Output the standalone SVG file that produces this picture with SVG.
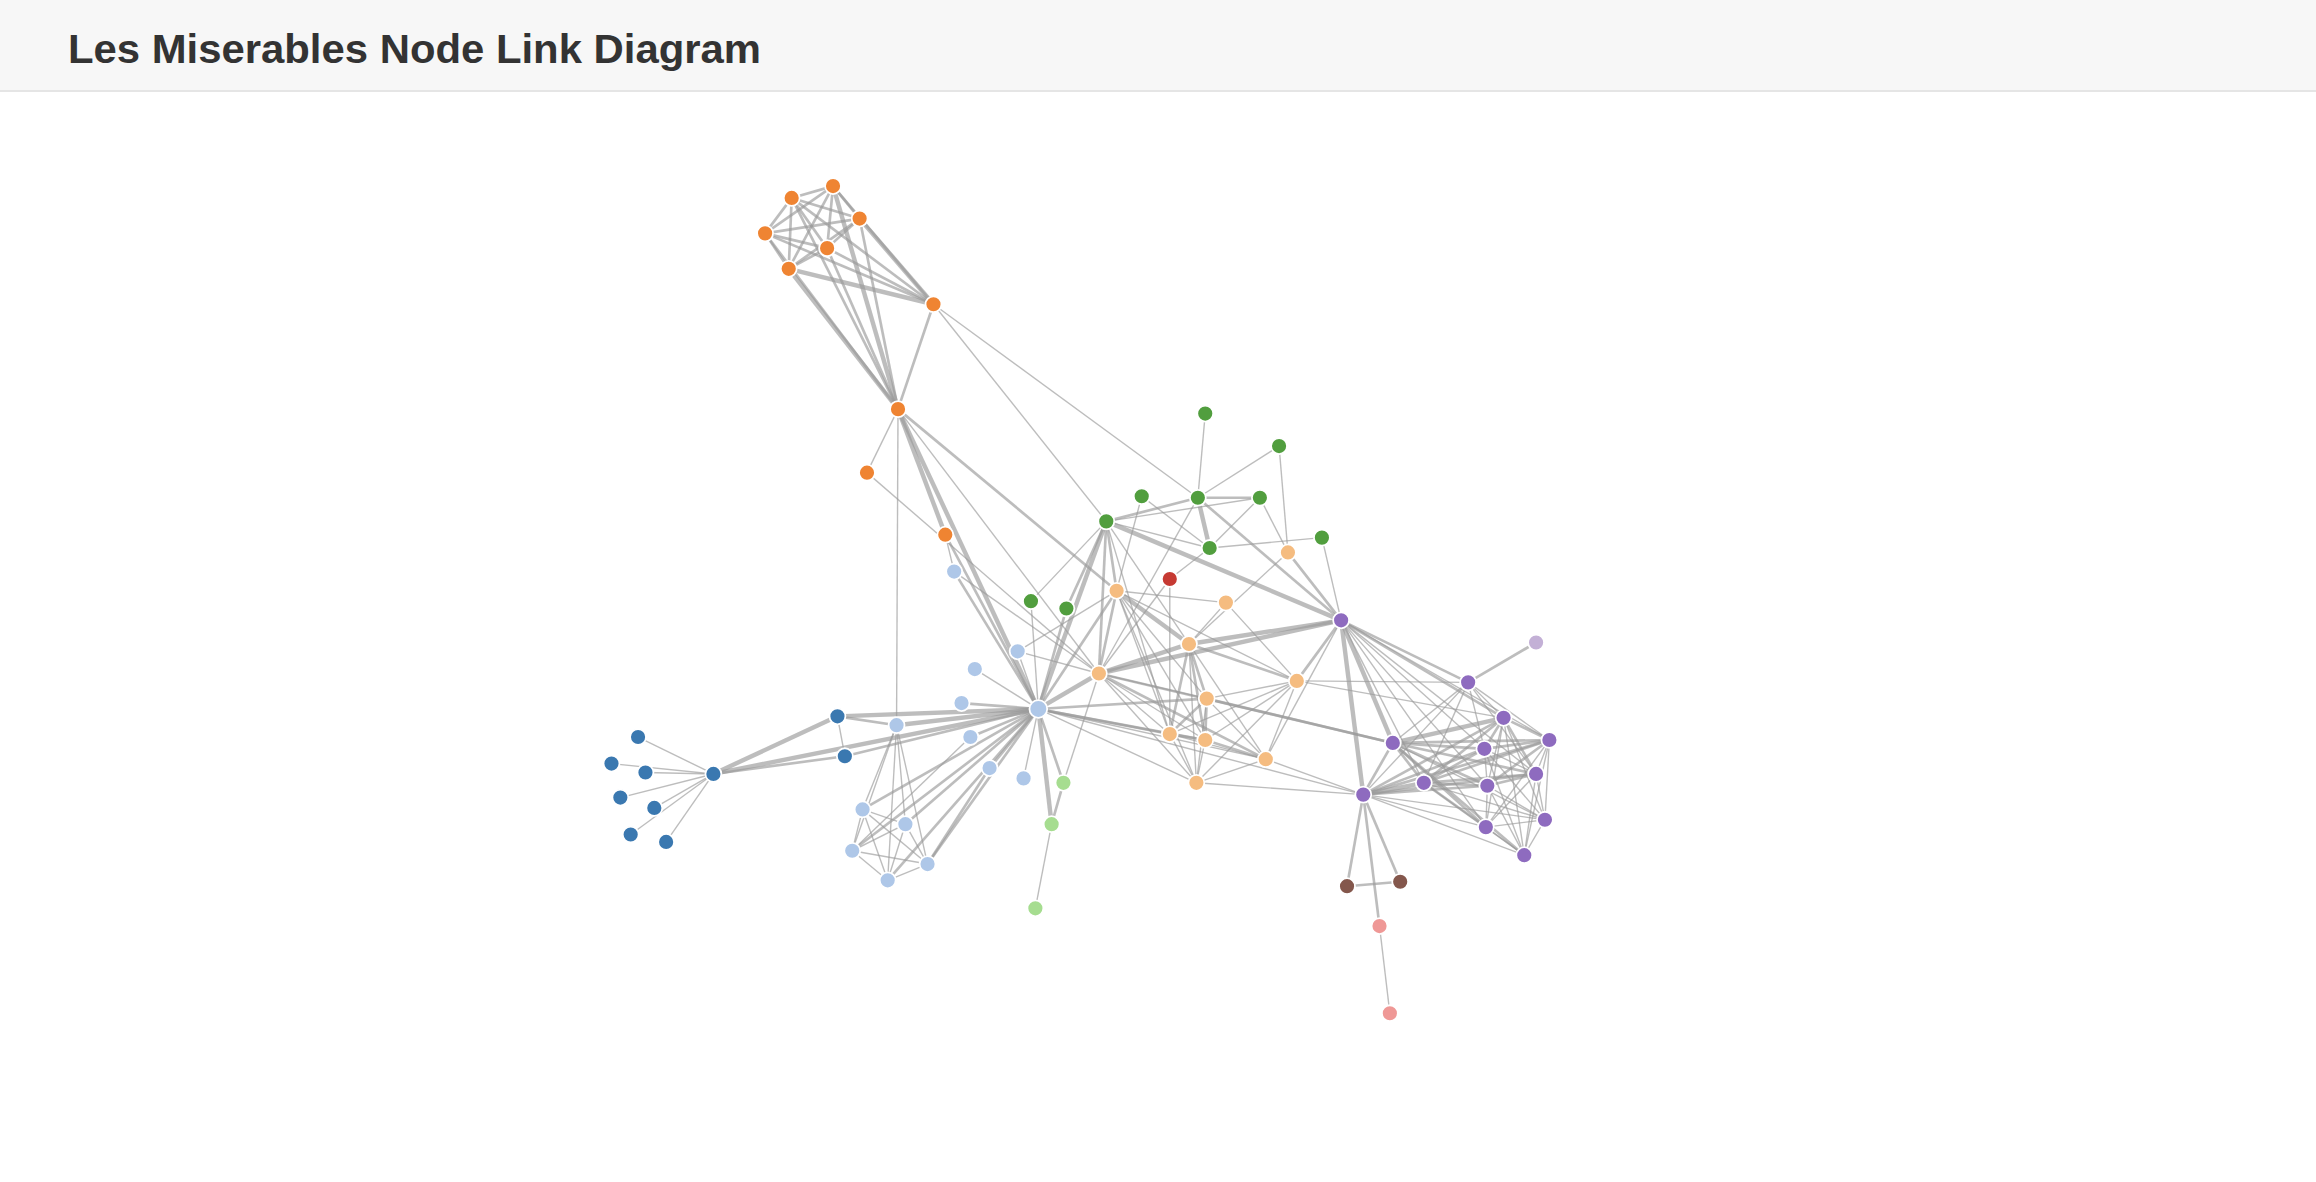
<svg xmlns="http://www.w3.org/2000/svg" width="2316" height="1182" viewBox="0 0 2316 1182">
<style>
.t{stroke:#9a9a9a;stroke-opacity:.65;stroke-width:.95}
.m{stroke:#9a9a9a;stroke-opacity:.65;stroke-width:1.8}
.k{stroke:#9a9a9a;stroke-opacity:.65;stroke-width:3}
circle{stroke:#fff;stroke-width:1.2}
.c1{fill:#3a78b0}.c2{fill:#aec7e8}.c3{fill:#ef8432}.c4{fill:#f5bc80}.c5{fill:#519e3e}.c6{fill:#a6dd90}.c7{fill:#c63a33}.c8{fill:#ef9896}.c9{fill:#8e6bbf}.c10{fill:#c3b0d6}.c11{fill:#84574c}
</style>
<rect x="0" y="0" width="2316" height="1182" fill="#fff"/>
<rect x="0" y="0" width="2316" height="90" fill="#f7f7f7"/>
<rect x="0" y="90" width="2316" height="2" fill="#e5e5e5"/>
<text x="68" y="63" font-family="Liberation Sans, Arial, sans-serif" font-size="41" font-weight="bold" fill="#333" textLength="693" lengthAdjust="spacingAndGlyphs">Les Miserables Node Link Diagram</text>
<g transform="scale(1.4770)">
<g id="links">
<line class="m" x1="564" y1="126" x2="536" y2="134"/><line class="m" x1="564" y1="126" x2="582" y2="148"/><line class="m" x1="564" y1="126" x2="518" y2="158"/><line class="m" x1="564" y1="126" x2="560" y2="168"/><line class="m" x1="564" y1="126" x2="534" y2="182"/><line class="m" x1="564" y1="126" x2="632" y2="206"/>
<line class="m" x1="536" y1="134" x2="582" y2="148"/><line class="m" x1="536" y1="134" x2="518" y2="158"/><line class="m" x1="536" y1="134" x2="560" y2="168"/><line class="m" x1="536" y1="134" x2="534" y2="182"/><line class="m" x1="536" y1="134" x2="632" y2="206"/>
<line class="m" x1="582" y1="148" x2="518" y2="158"/><line class="m" x1="582" y1="148" x2="560" y2="168"/><line class="m" x1="582" y1="148" x2="534" y2="182"/><line class="k" x1="582" y1="148" x2="632" y2="206"/>
<line class="m" x1="518" y1="158" x2="560" y2="168"/><line class="m" x1="518" y1="158" x2="534" y2="182"/><line class="m" x1="518" y1="158" x2="632" y2="206"/>
<line class="m" x1="560" y1="168" x2="534" y2="182"/><line class="m" x1="560" y1="168" x2="632" y2="206"/><line class="k" x1="534" y1="182" x2="632" y2="206"/>
<line class="k" x1="608" y1="277" x2="564" y2="126"/><line class="m" x1="608" y1="277" x2="536" y2="134"/><line class="m" x1="608" y1="277" x2="582" y2="148"/><line class="m" x1="608" y1="277" x2="518" y2="158"/><line class="m" x1="608" y1="277" x2="560" y2="168"/><line class="k" x1="608" y1="277" x2="534" y2="182"/><line class="m" x1="608" y1="277" x2="632" y2="206"/>
<line class="t" x1="608" y1="277" x2="587" y2="320"/><line class="k" x1="608" y1="277" x2="640" y2="362"/><line class="k" x1="608" y1="277" x2="703" y2="480"/><line class="m" x1="608" y1="277" x2="756" y2="400"/><line class="t" x1="608" y1="277" x2="744" y2="456"/><line class="t" x1="608" y1="277" x2="607" y2="491"/>
<line class="t" x1="632" y1="206" x2="749" y2="353"/><line class="t" x1="632" y1="206" x2="811" y2="337"/>
<line class="t" x1="587" y1="320" x2="744" y2="456"/><line class="t" x1="640" y1="362" x2="646" y2="387"/><line class="m" x1="640" y1="362" x2="703" y2="480"/>
<line class="m" x1="646" y1="387" x2="703" y2="480"/><line class="t" x1="646" y1="387" x2="744" y2="456"/>
<line class="t" x1="816" y1="280" x2="811" y2="337"/><line class="t" x1="866" y1="302" x2="811" y2="337"/><line class="t" x1="866" y1="302" x2="872" y2="374"/><line class="t" x1="773" y1="336" x2="819" y2="371"/><line class="t" x1="773" y1="336" x2="756" y2="400"/>
<line class="m" x1="811" y1="337" x2="853" y2="337"/><line class="m" x1="811" y1="337" x2="749" y2="353"/><line class="k" x1="811" y1="337" x2="819" y2="371"/><line class="m" x1="811" y1="337" x2="908" y2="420"/><line class="t" x1="811" y1="337" x2="744" y2="456"/>
<line class="t" x1="853" y1="337" x2="749" y2="353"/><line class="t" x1="853" y1="337" x2="819" y2="371"/><line class="t" x1="853" y1="337" x2="872" y2="374"/>
<line class="t" x1="819" y1="371" x2="749" y2="353"/><line class="t" x1="819" y1="371" x2="895" y2="364"/><line class="t" x1="819" y1="371" x2="792" y2="392"/><line class="t" x1="895" y1="364" x2="908" y2="420"/>
<line class="k" x1="749" y1="353" x2="908" y2="420"/><line class="k" x1="749" y1="353" x2="703" y2="480"/><line class="m" x1="749" y1="353" x2="756" y2="400"/><line class="t" x1="749" y1="353" x2="698" y2="407"/><line class="m" x1="749" y1="353" x2="722" y2="412"/><line class="m" x1="749" y1="353" x2="744" y2="456"/><line class="t" x1="749" y1="353" x2="805" y2="436"/><line class="t" x1="749" y1="353" x2="792" y2="497"/>
<line class="t" x1="698" y1="407" x2="703" y2="480"/><line class="m" x1="722" y1="412" x2="703" y2="480"/>
<line class="t" x1="792" y1="392" x2="744" y2="456"/><line class="t" x1="792" y1="392" x2="792" y2="497"/>
<line class="m" x1="872" y1="374" x2="908" y2="420"/><line class="t" x1="872" y1="374" x2="805" y2="436"/>
<line class="t" x1="756" y1="400" x2="830" y2="408"/><line class="k" x1="756" y1="400" x2="805" y2="436"/><line class="m" x1="756" y1="400" x2="744" y2="456"/><line class="t" x1="756" y1="400" x2="878" y2="461"/><line class="t" x1="756" y1="400" x2="817" y2="473"/><line class="t" x1="756" y1="400" x2="792" y2="497"/><line class="t" x1="756" y1="400" x2="816" y2="501"/><line class="t" x1="756" y1="400" x2="810" y2="530"/><line class="m" x1="756" y1="400" x2="703" y2="480"/>
<line class="t" x1="830" y1="408" x2="805" y2="436"/><line class="t" x1="830" y1="408" x2="878" y2="461"/>
<line class="k" x1="805" y1="436" x2="744" y2="456"/><line class="k" x1="805" y1="436" x2="908" y2="420"/><line class="m" x1="805" y1="436" x2="878" y2="461"/><line class="m" x1="805" y1="436" x2="817" y2="473"/><line class="m" x1="805" y1="436" x2="792" y2="497"/><line class="m" x1="805" y1="436" x2="816" y2="501"/><line class="t" x1="805" y1="436" x2="857" y2="514"/><line class="t" x1="805" y1="436" x2="810" y2="530"/>
<line class="k" x1="744" y1="456" x2="908" y2="420"/><line class="k" x1="744" y1="456" x2="703" y2="480"/><line class="t" x1="744" y1="456" x2="817" y2="473"/><line class="t" x1="744" y1="456" x2="792" y2="497"/><line class="t" x1="744" y1="456" x2="816" y2="501"/><line class="m" x1="744" y1="456" x2="857" y2="514"/><line class="t" x1="744" y1="456" x2="810" y2="530"/><line class="m" x1="744" y1="456" x2="943" y2="503"/><line class="t" x1="744" y1="456" x2="720" y2="530"/>
<line class="m" x1="878" y1="461" x2="908" y2="420"/><line class="t" x1="878" y1="461" x2="817" y2="473"/><line class="t" x1="878" y1="461" x2="792" y2="497"/><line class="t" x1="878" y1="461" x2="816" y2="501"/><line class="t" x1="878" y1="461" x2="857" y2="514"/><line class="t" x1="878" y1="461" x2="810" y2="530"/><line class="t" x1="878" y1="461" x2="994" y2="462"/><line class="t" x1="878" y1="461" x2="1018" y2="486"/>
<line class="m" x1="817" y1="473" x2="792" y2="497"/><line class="m" x1="817" y1="473" x2="816" y2="501"/><line class="t" x1="817" y1="473" x2="857" y2="514"/><line class="t" x1="817" y1="473" x2="810" y2="530"/><line class="m" x1="817" y1="473" x2="943" y2="503"/>
<line class="m" x1="792" y1="497" x2="816" y2="501"/><line class="t" x1="792" y1="497" x2="857" y2="514"/><line class="t" x1="792" y1="497" x2="810" y2="530"/><line class="m" x1="816" y1="501" x2="857" y2="514"/><line class="t" x1="816" y1="501" x2="810" y2="530"/>
<line class="t" x1="857" y1="514" x2="810" y2="530"/><line class="t" x1="857" y1="514" x2="923" y2="538"/><line class="t" x1="810" y1="530" x2="923" y2="538"/><line class="t" x1="857" y1="514" x2="908" y2="420"/>
<line class="m" x1="703" y1="480" x2="817" y2="473"/><line class="m" x1="703" y1="480" x2="792" y2="497"/><line class="m" x1="703" y1="480" x2="816" y2="501"/><line class="t" x1="703" y1="480" x2="810" y2="530"/><line class="t" x1="703" y1="480" x2="923" y2="538"/><line class="t" x1="703" y1="480" x2="857" y2="514"/>
<line class="k" x1="908" y1="420" x2="923" y2="538"/><line class="k" x1="908" y1="420" x2="943" y2="503"/><line class="m" x1="908" y1="420" x2="994" y2="462"/><line class="m" x1="908" y1="420" x2="1018" y2="486"/><line class="t" x1="908" y1="420" x2="1049" y2="501"/><line class="t" x1="908" y1="420" x2="1005" y2="507"/><line class="t" x1="908" y1="420" x2="964" y2="530"/><line class="t" x1="908" y1="420" x2="1040" y2="524"/><line class="t" x1="908" y1="420" x2="1007" y2="532"/><line class="t" x1="908" y1="420" x2="1006" y2="560"/>
<line class="m" x1="994" y1="462" x2="1040" y2="435"/>
<line class="t" x1="994" y1="462" x2="1018" y2="486"/><line class="t" x1="994" y1="462" x2="1049" y2="501"/><line class="t" x1="994" y1="462" x2="943" y2="503"/><line class="t" x1="994" y1="462" x2="1005" y2="507"/><line class="t" x1="994" y1="462" x2="964" y2="530"/><line class="t" x1="994" y1="462" x2="1040" y2="524"/><line class="t" x1="994" y1="462" x2="923" y2="538"/>
<line class="k" x1="943" y1="503" x2="1018" y2="486"/><line class="m" x1="943" y1="503" x2="1049" y2="501"/><line class="m" x1="943" y1="503" x2="1005" y2="507"/><line class="m" x1="943" y1="503" x2="964" y2="530"/><line class="m" x1="943" y1="503" x2="1040" y2="524"/><line class="m" x1="943" y1="503" x2="1007" y2="532"/><line class="t" x1="943" y1="503" x2="1046" y2="555"/><line class="m" x1="943" y1="503" x2="1006" y2="560"/><line class="m" x1="943" y1="503" x2="1032" y2="579"/><line class="m" x1="943" y1="503" x2="923" y2="538"/>
<line class="m" x1="1018" y1="486" x2="1049" y2="501"/><line class="m" x1="1018" y1="486" x2="1005" y2="507"/><line class="m" x1="1018" y1="486" x2="964" y2="530"/><line class="m" x1="1018" y1="486" x2="1040" y2="524"/><line class="t" x1="1018" y1="486" x2="1007" y2="532"/><line class="t" x1="1018" y1="486" x2="1046" y2="555"/><line class="t" x1="1018" y1="486" x2="1006" y2="560"/><line class="t" x1="1018" y1="486" x2="1032" y2="579"/><line class="m" x1="1018" y1="486" x2="923" y2="538"/>
<line class="m" x1="1049" y1="501" x2="1005" y2="507"/><line class="m" x1="1049" y1="501" x2="964" y2="530"/><line class="t" x1="1049" y1="501" x2="1040" y2="524"/><line class="m" x1="1049" y1="501" x2="1007" y2="532"/><line class="t" x1="1049" y1="501" x2="1046" y2="555"/><line class="t" x1="1049" y1="501" x2="1006" y2="560"/><line class="t" x1="1049" y1="501" x2="1032" y2="579"/><line class="m" x1="1049" y1="501" x2="923" y2="538"/>
<line class="m" x1="1005" y1="507" x2="964" y2="530"/><line class="t" x1="1005" y1="507" x2="1040" y2="524"/><line class="t" x1="1005" y1="507" x2="1007" y2="532"/><line class="t" x1="1005" y1="507" x2="1046" y2="555"/><line class="t" x1="1005" y1="507" x2="1032" y2="579"/><line class="m" x1="1005" y1="507" x2="923" y2="538"/>
<line class="m" x1="964" y1="530" x2="1040" y2="524"/><line class="m" x1="964" y1="530" x2="1007" y2="532"/><line class="t" x1="964" y1="530" x2="1046" y2="555"/><line class="m" x1="964" y1="530" x2="1006" y2="560"/><line class="t" x1="964" y1="530" x2="1032" y2="579"/><line class="k" x1="964" y1="530" x2="923" y2="538"/>
<line class="m" x1="1040" y1="524" x2="1007" y2="532"/><line class="t" x1="1040" y1="524" x2="1046" y2="555"/><line class="t" x1="1040" y1="524" x2="1006" y2="560"/><line class="t" x1="1040" y1="524" x2="1032" y2="579"/><line class="m" x1="1040" y1="524" x2="923" y2="538"/>
<line class="t" x1="1007" y1="532" x2="1046" y2="555"/><line class="t" x1="1007" y1="532" x2="1006" y2="560"/><line class="t" x1="1007" y1="532" x2="1032" y2="579"/><line class="m" x1="1007" y1="532" x2="923" y2="538"/>
<line class="t" x1="1046" y1="555" x2="1006" y2="560"/><line class="t" x1="1046" y1="555" x2="1032" y2="579"/><line class="t" x1="1046" y1="555" x2="923" y2="538"/><line class="t" x1="1006" y1="560" x2="1032" y2="579"/><line class="t" x1="1006" y1="560" x2="923" y2="538"/><line class="t" x1="1032" y1="579" x2="923" y2="538"/>
<line class="m" x1="923" y1="538" x2="912" y2="600"/><line class="m" x1="923" y1="538" x2="948" y2="597"/><line class="m" x1="923" y1="538" x2="934" y2="627"/><line class="m" x1="912" y1="600" x2="948" y2="597"/><line class="t" x1="934" y1="627" x2="941" y2="686"/>
<line class="t" x1="703" y1="480" x2="689" y2="441"/><line class="t" x1="703" y1="480" x2="660" y2="453"/><line class="m" x1="703" y1="480" x2="651" y2="476"/><line class="k" x1="703" y1="480" x2="607" y2="491"/><line class="m" x1="703" y1="480" x2="657" y2="499"/><line class="m" x1="703" y1="480" x2="670" y2="520"/><line class="t" x1="703" y1="480" x2="693" y2="527"/>
<line class="m" x1="703" y1="480" x2="584" y2="548"/><line class="m" x1="703" y1="480" x2="613" y2="558"/><line class="m" x1="703" y1="480" x2="577" y2="576"/><line class="m" x1="703" y1="480" x2="628" y2="585"/><line class="m" x1="703" y1="480" x2="601" y2="596"/>
<line class="k" x1="703" y1="480" x2="567" y2="485"/><line class="m" x1="703" y1="480" x2="572" y2="512"/><line class="k" x1="703" y1="480" x2="483" y2="524"/><line class="m" x1="703" y1="480" x2="720" y2="530"/><line class="k" x1="703" y1="480" x2="712" y2="558"/>
<line class="t" x1="689" y1="441" x2="756" y2="400"/><line class="t" x1="689" y1="441" x2="744" y2="456"/>
<line class="m" x1="607" y1="491" x2="567" y2="485"/><line class="t" x1="607" y1="491" x2="584" y2="548"/><line class="t" x1="607" y1="491" x2="613" y2="558"/><line class="t" x1="607" y1="491" x2="577" y2="576"/><line class="t" x1="607" y1="491" x2="628" y2="585"/><line class="t" x1="607" y1="491" x2="601" y2="596"/>
<line class="t" x1="584" y1="548" x2="613" y2="558"/><line class="t" x1="584" y1="548" x2="577" y2="576"/><line class="t" x1="584" y1="548" x2="628" y2="585"/><line class="t" x1="584" y1="548" x2="601" y2="596"/><line class="t" x1="613" y1="558" x2="577" y2="576"/><line class="t" x1="613" y1="558" x2="628" y2="585"/><line class="t" x1="613" y1="558" x2="601" y2="596"/><line class="t" x1="577" y1="576" x2="628" y2="585"/><line class="t" x1="577" y1="576" x2="601" y2="596"/><line class="t" x1="628" y1="585" x2="601" y2="596"/>
<line class="m" x1="670" y1="520" x2="628" y2="585"/><line class="t" x1="657" y1="499" x2="577" y2="576"/>
<line class="k" x1="483" y1="524" x2="567" y2="485"/><line class="m" x1="483" y1="524" x2="572" y2="512"/><line class="t" x1="567" y1="485" x2="572" y2="512"/>
<line class="t" x1="483" y1="524" x2="432" y2="499"/><line class="t" x1="483" y1="524" x2="414" y2="517"/><line class="t" x1="483" y1="524" x2="437" y2="523"/><line class="t" x1="483" y1="524" x2="420" y2="540"/><line class="t" x1="483" y1="524" x2="443" y2="547"/><line class="t" x1="483" y1="524" x2="427" y2="565"/><line class="t" x1="483" y1="524" x2="451" y2="570"/>
<line class="m" x1="720" y1="530" x2="712" y2="558"/><line class="t" x1="712" y1="558" x2="701" y2="615"/>
</g>
<g id="n-orange"><circle class="c3" cx="564" cy="126" r="5.4"/><circle class="c3" cx="536" cy="134" r="5.4"/><circle class="c3" cx="582" cy="148" r="5.4"/><circle class="c3" cx="518" cy="158" r="5.4"/><circle class="c3" cx="560" cy="168" r="5.4"/><circle class="c3" cx="534" cy="182" r="5.4"/><circle class="c3" cx="632" cy="206" r="5.4"/><circle class="c3" cx="608" cy="277" r="5.4"/><circle class="c3" cx="587" cy="320" r="5.4"/><circle class="c3" cx="640" cy="362" r="5.4"/></g>
<g id="n-green"><circle class="c5" cx="816" cy="280" r="5.4"/><circle class="c5" cx="866" cy="302" r="5.4"/><circle class="c5" cx="773" cy="336" r="5.4"/><circle class="c5" cx="811" cy="337" r="5.4"/><circle class="c5" cx="853" cy="337" r="5.4"/><circle class="c5" cx="749" cy="353" r="5.4"/><circle class="c5" cx="819" cy="371" r="5.4"/><circle class="c5" cx="895" cy="364" r="5.4"/><circle class="c5" cx="698" cy="407" r="5.4"/><circle class="c5" cx="722" cy="412" r="5.4"/></g>
<g id="n-red"><circle class="c7" cx="792" cy="392" r="5.4"/></g>
<g id="n-lightorange"><circle class="c4" cx="872" cy="374" r="5.4"/><circle class="c4" cx="756" cy="400" r="5.4"/><circle class="c4" cx="830" cy="408" r="5.4"/><circle class="c4" cx="805" cy="436" r="5.4"/><circle class="c4" cx="744" cy="456" r="5.4"/><circle class="c4" cx="878" cy="461" r="5.4"/><circle class="c4" cx="817" cy="473" r="5.4"/><circle class="c4" cx="792" cy="497" r="5.4"/><circle class="c4" cx="816" cy="501" r="5.4"/><circle class="c4" cx="857" cy="514" r="5.4"/><circle class="c4" cx="810" cy="530" r="5.4"/></g>
<g id="n-purple"><circle class="c9" cx="908" cy="420" r="5.4"/><circle class="c9" cx="994" cy="462" r="5.4"/><circle class="c9" cx="1018" cy="486" r="5.4"/><circle class="c9" cx="1049" cy="501" r="5.4"/><circle class="c9" cx="943" cy="503" r="5.4"/><circle class="c9" cx="1005" cy="507" r="5.4"/><circle class="c9" cx="964" cy="530" r="5.4"/><circle class="c9" cx="1040" cy="524" r="5.4"/><circle class="c9" cx="1007" cy="532" r="5.4"/><circle class="c9" cx="923" cy="538" r="5.4"/><circle class="c9" cx="1046" cy="555" r="5.4"/><circle class="c9" cx="1006" cy="560" r="5.4"/><circle class="c9" cx="1032" cy="579" r="5.4"/></g>
<g id="n-lavender"><circle class="c10" cx="1040" cy="435" r="5.4"/></g>
<g id="n-brown"><circle class="c11" cx="912" cy="600" r="5.4"/><circle class="c11" cx="948" cy="597" r="5.4"/></g>
<g id="n-pink"><circle class="c8" cx="934" cy="627" r="5.4"/><circle class="c8" cx="941" cy="686" r="5.4"/></g>
<g id="n-lightblue"><circle class="c2" cx="703" cy="480" r="6"/><circle class="c2" cx="646" cy="387" r="5.4"/><circle class="c2" cx="689" cy="441" r="5.4"/><circle class="c2" cx="660" cy="453" r="5.4"/><circle class="c2" cx="651" cy="476" r="5.4"/><circle class="c2" cx="607" cy="491" r="5.4"/><circle class="c2" cx="657" cy="499" r="5.4"/><circle class="c2" cx="670" cy="520" r="5.4"/><circle class="c2" cx="693" cy="527" r="5.4"/><circle class="c2" cx="584" cy="548" r="5.4"/><circle class="c2" cx="613" cy="558" r="5.4"/><circle class="c2" cx="577" cy="576" r="5.4"/><circle class="c2" cx="628" cy="585" r="5.4"/><circle class="c2" cx="601" cy="596" r="5.4"/></g>
<g id="n-lightgreen"><circle class="c6" cx="720" cy="530" r="5.4"/><circle class="c6" cx="712" cy="558" r="5.4"/><circle class="c6" cx="701" cy="615" r="5.4"/></g>
<g id="n-blue"><circle class="c1" cx="483" cy="524" r="5.4"/><circle class="c1" cx="567" cy="485" r="5.4"/><circle class="c1" cx="572" cy="512" r="5.4"/><circle class="c1" cx="432" cy="499" r="5.4"/><circle class="c1" cx="414" cy="517" r="5.4"/><circle class="c1" cx="437" cy="523" r="5.4"/><circle class="c1" cx="420" cy="540" r="5.4"/><circle class="c1" cx="443" cy="547" r="5.4"/><circle class="c1" cx="427" cy="565" r="5.4"/><circle class="c1" cx="451" cy="570" r="5.4"/></g>
</g>
</svg>
